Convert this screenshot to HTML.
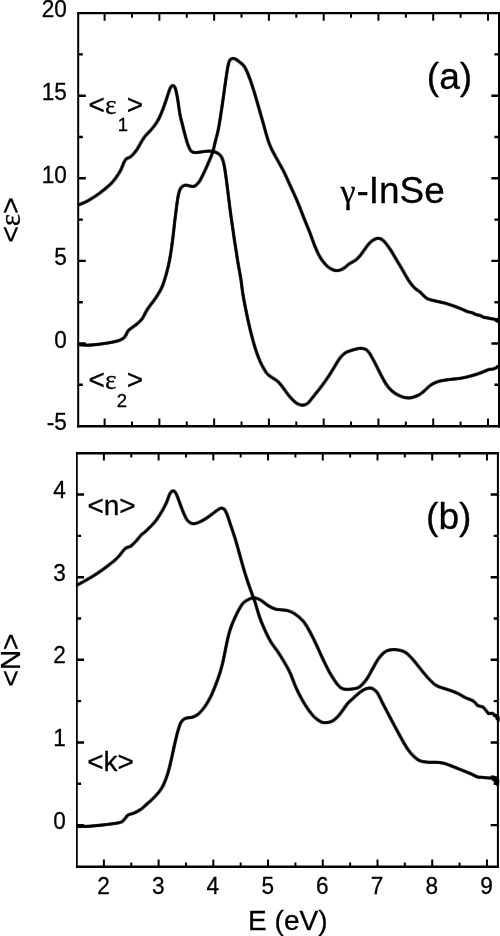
<!DOCTYPE html>
<html lang="en"><head><meta charset="utf-8"><title>Dielectric function and refractive index of γ-InSe</title>
<style>
html,body{margin:0;padding:0;background:#fff}
svg{display:block}
.cv{fill:none;stroke:#000;stroke-linejoin:round;stroke-linecap:butt}
.fv{fill:none;stroke:#000;stroke-width:2}
.fh{fill:none;stroke:#000;stroke-width:2.4}
.t{font-family:"Liberation Sans",sans-serif;fill:#000;stroke:#000;stroke-width:0.3}
.g{font-family:"Liberation Serif",serif}
</style></head><body>
<svg width="500" height="936" viewBox="0 0 500 936">
<rect width="500" height="936" fill="#fff"/>
<defs><g id="cv">
<path d="M78.2,205.1C79.8,204.4 84.4,202.7 88.0,200.7C91.6,198.7 96.0,195.9 100.0,192.9C104.0,189.9 108.7,186.1 112.0,182.7C115.3,179.2 117.6,175.5 119.6,172.2C121.6,168.9 122.8,165.0 123.8,162.8C124.8,160.6 125.2,160.0 125.9,159.2C126.6,158.4 127.2,158.4 128.0,158.0C128.8,157.6 129.6,157.6 130.5,156.9C131.4,156.2 132.3,155.2 133.4,154.0C134.5,152.8 135.6,151.5 136.8,149.8C138.0,148.1 139.2,145.6 140.4,143.6C141.6,141.6 142.8,139.3 144.0,137.6C145.2,135.9 146.5,134.8 147.8,133.4C149.1,132.0 150.3,130.7 151.6,129.2C152.9,127.7 154.2,126.2 155.4,124.4C156.6,122.6 157.8,120.8 159.0,118.4C160.2,116.0 161.5,112.8 162.6,110.0C163.7,107.2 164.7,104.2 165.6,101.6C166.5,99.0 167.2,96.7 168.0,94.4C168.8,92.1 169.6,89.3 170.4,87.8C171.2,86.3 172.0,85.4 172.8,85.4C173.6,85.4 174.4,86.3 175.1,87.8C175.8,89.3 176.2,91.7 176.8,94.4C177.4,97.1 177.9,100.6 178.4,104.0C178.9,107.4 179.4,111.6 180.0,114.8C180.6,118.0 181.3,120.3 182.0,123.0C182.7,125.7 183.3,128.4 184.0,131.0C184.7,133.6 185.3,136.2 186.0,138.5C186.7,140.8 187.2,143.0 188.0,145.0C188.8,147.0 189.7,149.1 190.5,150.3C191.3,151.5 192.1,151.8 193.0,152.2C193.9,152.6 194.8,152.6 196.0,152.6C197.2,152.6 198.5,152.3 200.0,152.1C201.5,151.9 203.3,151.6 205.0,151.4C206.7,151.2 208.3,151.0 210.0,151.1C211.7,151.2 213.5,151.5 215.0,152.0C216.5,152.5 217.8,153.2 219.0,154.2C220.2,155.2 221.1,156.0 222.0,158.0C222.9,160.0 223.6,162.3 224.3,166.0C225.0,169.7 225.7,175.0 226.4,180.0C227.1,185.0 227.7,190.7 228.4,196.0C229.1,201.3 229.7,207.0 230.4,212.0C231.1,217.0 231.7,221.3 232.4,226.0C233.1,230.7 233.8,235.7 234.4,240.0C235.1,244.3 235.7,248.0 236.3,252.0C236.9,256.0 237.4,259.3 238.2,264.0C239.0,268.7 240.2,274.7 241.0,280.0C241.8,285.3 242.0,289.0 243.2,296.0C244.4,303.0 246.7,314.2 248.4,322.0C250.1,329.8 251.9,336.7 253.6,342.8C255.3,348.9 257.1,354.0 258.8,358.4C260.5,362.8 262.5,366.3 264.0,369.0C265.5,371.7 266.3,373.0 268.0,374.6C269.7,376.2 272.2,377.5 274.0,378.8C275.8,380.1 277.2,380.8 278.8,382.4C280.4,384.0 282.0,386.3 283.6,388.4C285.2,390.5 286.8,393.0 288.4,395.0C290.0,397.0 291.6,398.9 293.2,400.4C294.8,401.9 296.4,403.2 298.0,404.0C299.6,404.8 301.2,405.3 302.8,405.2C304.4,405.1 306.0,404.6 307.6,403.4C309.2,402.2 310.8,399.7 312.4,397.8C314.0,395.9 315.4,394.0 317.0,392.0C318.6,390.0 320.2,388.1 322.0,385.6C323.8,383.1 326.0,380.2 328.0,377.2C330.0,374.2 332.0,370.8 334.0,367.6C336.0,364.4 338.2,360.4 340.0,358.0C341.8,355.6 343.0,354.4 344.8,353.2C346.6,352.0 348.6,351.4 350.8,350.6C353.0,349.8 356.1,349.0 358.0,348.6C359.9,348.2 360.8,348.2 362.2,348.4C363.6,348.6 365.3,349.1 366.4,349.8C367.5,350.5 368.1,351.5 369.0,352.6C369.9,353.7 370.3,354.5 371.5,356.6C372.7,358.7 374.4,361.9 376.0,365.0C377.6,368.1 379.3,371.8 381.0,375.0C382.7,378.2 384.2,381.3 386.0,384.0C387.8,386.7 389.7,389.0 392.0,391.0C394.3,393.0 397.2,394.8 400.0,396.0C402.8,397.2 406.0,398.1 409.0,398.0C412.0,397.9 415.5,396.5 418.0,395.4C420.5,394.3 422.0,392.8 424.0,391.2C426.0,389.6 428.0,387.1 430.0,385.6C432.0,384.1 434.0,383.1 436.0,382.3C438.0,381.5 439.6,381.1 442.0,380.6C444.4,380.1 447.4,379.8 450.4,379.4C453.4,379.0 456.8,378.9 460.0,378.4C463.2,377.9 466.4,377.1 469.6,376.3C472.8,375.5 476.3,374.4 479.2,373.4C482.1,372.4 485.4,370.9 487.2,370.2C489.0,369.5 489.2,369.3 490.0,369.2C490.8,369.1 491.3,369.5 492.0,369.4C492.7,369.3 493.3,368.8 494.0,368.6C494.7,368.4 495.4,368.4 496.0,368.0C496.6,367.6 497.0,366.5 497.4,366.4C497.8,366.3 498.1,367.7 498.4,367.6C498.7,367.5 498.9,366.1 499.0,365.8"/>
<path d="M78.2,344.6C79.7,344.7 83.9,345.2 87.0,345.2C90.1,345.2 93.7,344.9 97.0,344.5C100.3,344.1 103.7,343.7 107.0,343.1C110.3,342.5 114.3,341.9 117.0,341.1C119.7,340.4 121.5,339.6 123.0,338.6C124.5,337.6 125.2,336.3 126.0,335.0C126.8,333.7 127.0,332.2 128.0,331.0C129.0,329.8 130.5,328.8 132.0,327.6C133.5,326.4 135.3,325.4 137.0,324.0C138.7,322.6 140.3,321.3 142.0,319.0C143.7,316.7 145.3,312.7 147.0,310.0C148.7,307.3 150.3,305.3 152.0,303.0C153.7,300.7 155.3,298.7 157.0,296.0C158.7,293.3 160.4,290.7 162.0,287.0C163.6,283.3 165.0,278.5 166.3,274.0C167.6,269.5 168.7,264.7 169.6,260.0C170.5,255.3 171.1,251.0 171.8,246.0C172.5,241.0 173.3,234.3 173.8,230.0C174.3,225.7 174.2,225.3 174.9,220.0C175.6,214.7 176.9,203.3 177.8,198.0C178.8,192.7 179.4,190.5 180.6,188.4C181.8,186.3 183.4,185.6 185.0,185.2C186.6,184.8 188.5,185.8 190.0,186.0C191.5,186.2 192.5,187.1 194.0,186.4C195.5,185.7 197.3,184.4 199.0,182.0C200.7,179.6 202.5,175.7 204.3,172.0C206.1,168.3 208.2,163.3 209.6,160.0C211.0,156.7 211.7,155.3 212.7,152.0C213.7,148.7 214.7,144.0 215.7,140.0C216.7,136.0 217.5,134.0 218.6,128.0C219.7,122.0 221.3,111.3 222.4,104.0C223.5,96.7 224.3,90.3 225.2,84.0C226.1,77.7 227.2,70.0 228.0,66.0C228.8,62.0 229.2,61.3 230.0,60.0C230.8,58.7 232.0,58.5 233.0,58.4C234.0,58.3 234.8,58.7 236.0,59.4C237.2,60.1 238.7,61.3 240.0,62.4C241.3,63.5 242.7,64.1 244.0,66.0C245.3,67.9 246.7,70.8 248.0,74.0C249.3,77.2 250.7,81.0 252.0,85.0C253.3,89.0 254.7,93.5 256.0,98.0C257.3,102.5 258.7,107.3 260.0,112.0C261.3,116.7 262.7,121.3 264.0,126.0C265.3,130.7 266.7,136.0 268.0,140.0C269.3,144.0 270.3,146.5 272.0,150.0C273.7,153.5 276.0,157.3 278.0,161.0C280.0,164.7 281.9,167.8 284.0,172.0C286.1,176.2 288.1,181.0 290.4,186.0C292.7,191.0 295.4,196.7 297.6,202.0C299.9,207.3 301.9,213.0 303.9,218.0C305.9,223.0 307.7,227.2 309.6,232.0C311.5,236.8 313.4,242.7 315.2,247.0C317.0,251.3 318.6,254.8 320.6,258.0C322.6,261.2 324.9,264.0 327.0,266.0C329.1,268.0 331.2,269.0 333.0,269.8C334.8,270.6 336.3,270.8 338.0,270.6C339.7,270.4 341.2,269.8 343.0,268.8C344.8,267.8 347.0,265.5 348.5,264.4C350.0,263.3 350.9,263.0 352.1,262.2C353.4,261.4 354.7,260.9 356.0,259.8C357.3,258.7 358.6,257.5 360.0,255.8C361.4,254.1 362.9,251.9 364.4,249.8C365.9,247.7 367.6,245.1 369.2,243.4C370.8,241.7 372.4,240.4 374.0,239.6C375.6,238.8 377.2,238.1 378.8,238.3C380.4,238.5 381.7,239.0 383.6,240.8C385.5,242.6 387.9,246.0 390.0,249.0C392.1,252.0 394.0,255.7 396.0,259.0C398.0,262.3 400.0,265.6 402.0,269.0C404.0,272.4 406.0,276.4 408.0,279.5C410.0,282.6 412.0,285.3 414.0,287.4C416.0,289.5 418.3,290.6 420.0,292.0C421.7,293.4 422.7,294.8 424.0,296.0C425.3,297.2 426.0,298.1 428.0,299.0C430.0,299.9 433.3,300.5 436.0,301.1C438.7,301.8 441.3,302.2 444.0,302.9C446.7,303.6 449.3,304.5 452.0,305.4C454.7,306.3 457.3,307.3 460.0,308.4C462.7,309.5 466.0,311.1 468.0,311.8C470.0,312.5 470.7,312.1 472.0,312.6C473.3,313.1 474.7,314.1 476.0,314.6C477.3,315.1 478.7,314.9 480.0,315.4C481.3,315.9 482.7,317.0 484.0,317.4C485.3,317.8 486.7,317.8 488.0,318.0C489.3,318.2 490.8,318.7 492.0,318.9C493.2,319.1 494.2,319.0 495.0,319.4C495.8,319.8 496.1,321.1 496.5,321.0C496.9,320.9 497.2,318.8 497.5,319.0C497.8,319.2 498.1,321.8 498.3,322.0C498.6,322.2 498.9,320.3 499.0,320.0"/>
<path d="M76.9,585.2C78.4,584.4 82.8,582.0 86.0,580.2C89.2,578.4 92.7,576.4 96.0,574.2C99.3,572.0 102.7,569.7 106.0,567.2C109.3,564.7 113.5,561.5 116.0,559.2C118.5,556.9 119.7,555.2 121.0,553.6C122.3,552.0 123.2,550.7 124.0,549.8C124.8,548.9 125.2,548.5 126.0,548.0C126.8,547.5 127.7,547.3 128.5,547.0C129.3,546.7 129.8,547.0 131.0,546.0C132.2,545.0 134.2,543.2 136.0,541.2C137.8,539.2 140.5,535.7 142.0,534.2C143.5,532.7 143.7,533.2 145.0,532.0C146.3,530.8 148.1,529.2 150.0,527.2C151.9,525.2 154.3,522.9 156.4,520.0C158.5,517.1 161.0,513.0 162.7,510.0C164.4,507.0 165.5,504.7 166.7,502.0C167.9,499.3 168.9,495.5 170.0,493.6C171.1,491.7 172.1,490.8 173.1,490.8C174.1,490.8 175.0,491.7 176.0,493.4C177.0,495.1 177.9,498.2 179.1,501.2C180.3,504.2 181.7,508.6 183.0,511.6C184.3,514.6 185.5,517.5 186.7,519.4C187.9,521.3 189.1,522.1 190.3,522.8C191.5,523.5 192.5,523.9 194.0,523.8C195.5,523.7 197.5,522.9 199.5,522.0C201.5,521.1 203.8,519.9 206.0,518.5C208.2,517.1 210.6,515.2 212.5,513.8C214.4,512.4 216.3,510.8 217.7,509.9C219.1,508.9 220.0,508.2 221.1,508.1C222.2,508.0 223.2,508.2 224.2,509.1C225.1,510.1 225.9,511.5 226.8,513.8C227.8,516.1 228.6,519.0 229.9,522.9C231.2,526.8 233.0,531.8 234.7,537.2C236.4,542.6 238.2,549.3 239.9,555.4C241.6,561.5 243.4,568.0 245.1,573.6C246.8,579.2 248.6,584.3 250.3,589.2C252.0,594.1 253.8,598.5 255.3,603.0C256.8,607.5 257.7,611.7 259.2,616.0C260.7,620.3 262.4,624.7 264.4,629.0C266.3,633.3 268.7,638.3 270.9,642.0C273.1,645.7 275.2,647.9 277.4,651.1C279.6,654.4 281.7,657.8 283.9,661.5C286.1,665.2 288.5,669.3 290.4,673.5C292.3,677.7 293.6,682.2 295.5,686.5C297.4,690.8 299.8,695.6 302.0,699.5C304.2,703.4 306.3,706.9 308.5,709.9C310.7,712.9 312.8,715.7 315.0,717.7C317.2,719.7 319.6,721.3 321.5,722.1C323.4,722.9 325.0,722.7 326.7,722.6C328.4,722.5 330.2,722.2 331.9,721.3C333.6,720.4 335.4,719.1 337.1,717.4C338.8,715.7 340.6,713.2 342.3,710.9C344.0,708.6 345.8,705.6 347.5,703.6C349.2,701.6 351.0,700.3 352.7,698.7C354.4,697.1 356.2,695.4 357.9,694.0C359.6,692.6 361.4,691.1 363.1,690.1C364.8,689.1 366.9,688.5 368.3,688.2C369.7,687.9 370.5,687.9 371.5,688.2C372.5,688.5 373.6,689.2 374.5,689.9C375.4,690.6 376.1,691.0 377.0,692.3C377.9,693.6 379.0,695.8 380.0,697.7C381.0,699.6 381.5,701.0 383.0,703.9C384.5,706.8 387.0,711.6 389.0,715.4C391.0,719.2 393.0,723.0 395.0,726.7C397.0,730.4 399.0,734.2 401.0,737.8C403.0,741.4 405.0,745.1 407.0,748.1C409.0,751.1 410.8,753.5 413.0,755.6C415.2,757.7 417.3,759.7 420.0,760.8C422.7,761.9 426.2,762.0 429.0,762.3C431.8,762.5 434.5,762.1 437.0,762.3C439.5,762.5 441.7,762.7 444.0,763.3C446.3,763.9 448.7,764.9 451.0,765.8C453.3,766.7 455.7,767.7 458.0,768.6C460.3,769.5 462.7,770.5 465.0,771.4C467.3,772.3 469.9,773.4 472.0,774.3C474.1,775.2 475.9,776.5 477.6,777.0C479.3,777.5 480.6,777.2 482.0,777.3C483.4,777.4 484.4,777.7 486.0,777.8C487.6,777.9 490.4,778.2 491.5,778.0C492.6,777.8 492.2,776.4 492.5,776.6C492.8,776.9 492.9,779.4 493.2,779.5C493.4,779.6 493.7,776.8 494.0,777.0C494.3,777.2 494.6,780.9 494.8,781.0C495.1,781.1 495.3,777.2 495.5,777.5C495.7,777.8 496.0,782.8 496.2,783.0C496.4,783.2 496.6,778.2 496.8,778.5C497.0,778.8 497.2,784.2 497.4,784.5C497.6,784.8 497.9,780.8 498.0,780.0"/>
<path d="M76.9,826.6C79.1,826.5 85.5,826.5 89.8,826.2C94.1,825.9 98.3,825.5 102.6,825.0C106.9,824.5 112.2,823.9 115.4,823.4C118.6,822.9 120.2,822.6 121.8,821.8C123.4,821.0 123.9,819.7 125.0,818.6C126.1,817.5 126.6,816.0 128.2,815.0C129.8,814.0 132.5,813.8 134.6,812.8C136.7,811.8 139.1,810.6 141.0,809.3C142.9,808.0 143.9,806.7 145.8,805.0C147.7,803.3 150.1,801.4 152.2,799.3C154.3,797.2 156.7,794.8 158.6,792.4C160.5,790.0 161.8,788.4 163.4,785.0C165.0,781.6 166.9,776.4 168.2,772.1C169.5,767.8 170.3,763.8 171.4,759.2C172.5,754.6 173.5,749.0 174.6,744.4C175.7,739.8 176.7,735.1 177.8,731.4C178.9,727.7 179.7,724.6 181.0,722.4C182.3,720.2 183.9,719.1 185.8,718.2C187.7,717.4 190.1,718.0 192.2,717.3C194.3,716.6 196.5,715.6 198.6,713.8C200.7,712.0 202.9,709.5 205.0,706.4C207.1,703.3 209.3,699.7 211.4,695.2C213.5,690.7 215.9,684.5 217.8,679.2C219.7,673.9 221.1,669.4 222.6,663.2C224.1,657.0 225.7,647.9 227.0,642.0C228.3,636.1 229.2,632.3 230.7,628.0C232.1,623.7 233.8,620.0 235.7,616.0C237.6,612.0 240.2,606.8 242.4,604.0C244.6,601.2 247.0,600.3 248.9,599.3C250.8,598.3 252.2,597.7 254.1,597.8C256.0,597.9 258.0,598.7 260.4,600.0C262.8,601.3 265.6,604.1 268.2,605.6C270.8,607.1 273.0,608.5 276.0,609.3C279.0,610.1 283.4,609.6 286.4,610.3C289.4,611.0 291.4,611.6 294.2,613.4C297.0,615.2 300.7,618.2 303.3,621.2C305.9,624.2 307.6,627.7 309.8,631.6C312.0,635.5 314.1,640.1 316.3,644.6C318.5,649.1 320.6,654.4 322.8,658.9C325.0,663.4 327.1,668.0 329.3,671.9C331.5,675.8 334.0,679.7 335.8,682.3C337.6,684.9 338.9,686.3 340.4,687.5C341.9,688.7 343.1,689.0 344.9,689.3C346.7,689.6 349.3,689.3 351.4,689.1C353.5,688.9 355.8,688.6 357.4,688.0C359.0,687.4 359.6,687.0 361.2,685.5C362.8,684.0 364.9,681.7 366.8,679.0C368.7,676.3 370.5,672.5 372.4,669.2C374.3,665.9 376.1,662.1 378.0,659.4C379.9,656.7 381.8,654.5 383.5,653.0C385.2,651.5 386.1,651.0 388.0,650.4C389.9,649.8 392.7,649.5 395.0,649.6C397.3,649.7 400.2,650.3 402.0,650.8C403.8,651.3 404.7,651.9 406.0,652.8C407.3,653.7 408.7,655.1 410.0,656.4C411.3,657.7 412.7,659.2 414.0,660.8C415.3,662.4 416.7,664.1 418.0,665.8C419.3,667.5 420.2,668.6 422.0,670.8C423.8,673.0 426.7,676.6 429.0,679.0C431.3,681.4 433.7,683.8 436.0,685.3C438.3,686.8 440.7,687.3 443.0,688.1C445.3,688.9 447.5,689.4 450.0,690.3C452.5,691.2 455.5,692.3 458.0,693.5C460.5,694.7 462.7,696.4 465.0,697.5C467.3,698.6 470.3,699.5 472.0,700.3C473.7,701.1 474.1,701.6 475.0,702.5C475.9,703.4 476.7,704.9 477.6,705.5C478.5,706.1 479.6,706.0 480.5,706.3C481.4,706.6 482.3,706.6 483.2,707.3C484.1,708.0 485.1,709.4 486.0,710.5C486.9,711.6 488.0,713.3 488.8,713.8C489.6,714.2 490.3,713.2 491.0,713.2C491.7,713.2 492.3,713.1 493.0,713.6C493.7,714.1 494.4,716.0 495.0,716.2C495.6,716.4 495.9,714.5 496.3,715.0C496.7,715.5 496.9,718.7 497.2,719.0C497.5,719.3 497.7,716.7 497.9,717.0C498.1,717.3 498.3,720.3 498.4,721.0"/>
</g></defs>
<g class="cv" stroke-width="0.6"><use href="#cv" x="-1.05" y="-1.05"/><use href="#cv" x="-1.05" y="1.05"/><use href="#cv" x="1.05" y="-1.05"/><use href="#cv" x="1.05" y="1.05"/></g>
<use href="#cv" class="cv" stroke-width="2.40"/>
<path class="fv" d="M78.2,12.0V427.4M499.0,12.0V427.4M497.9,452.09999999999997V867.9000000000001"/>
<path class="fv" style="stroke-width:1.75" d="M76.9,452.09999999999997V867.9000000000001"/>
<path class="fh" d="M77.2,13.1H500.0M77.2,426.2H500.0M75.9,453.2H498.9M75.9,866.7H498.9"/>
<path class="fv" d="M104.60,13.1v7.6M104.60,426.2v-7.6M131.98,13.1v4.6M131.98,426.2v-4.6M159.37,13.1v7.6M159.37,426.2v-7.6M186.75,13.1v4.6M186.75,426.2v-4.6M214.14,13.1v7.6M214.14,426.2v-7.6M241.53,13.1v4.6M241.53,426.2v-4.6M268.91,13.1v7.6M268.91,426.2v-7.6M296.30,13.1v4.6M296.30,426.2v-4.6M323.68,13.1v7.6M323.68,426.2v-7.6M351.06,13.1v4.6M351.06,426.2v-4.6M378.45,13.1v7.6M378.45,426.2v-7.6M405.84,13.1v4.6M405.84,426.2v-4.6M433.22,13.1v7.6M433.22,426.2v-7.6M460.61,13.1v4.6M460.61,426.2v-4.6M487.99,13.1v7.6M487.99,426.2v-7.6M103.90,453.2v7.2M103.90,866.7v-7.2M131.26,453.2v4.2M131.26,866.7v-4.2M158.62,453.2v7.2M158.62,866.7v-7.2M185.98,453.2v4.2M185.98,866.7v-4.2M213.34,453.2v7.2M213.34,866.7v-7.2M240.70,453.2v4.2M240.70,866.7v-4.2M268.06,453.2v7.2M268.06,866.7v-7.2M295.42,453.2v4.2M295.42,866.7v-4.2M322.78,453.2v7.2M322.78,866.7v-7.2M350.14,453.2v4.2M350.14,866.7v-4.2M377.50,453.2v7.2M377.50,866.7v-7.2M404.86,453.2v4.2M404.86,866.7v-4.2M432.22,453.2v7.2M432.22,866.7v-7.2M459.58,453.2v4.2M459.58,866.7v-4.2M486.94,453.2v7.2M486.94,866.7v-7.2"/>
<path class="fh" d="M78.2,54.40h4.6M499.0,54.40h-4.6M78.2,95.70h7.6M499.0,95.70h-7.6M78.2,137.00h4.6M499.0,137.00h-4.6M78.2,178.30h7.6M499.0,178.30h-7.6M78.2,219.60h4.6M499.0,219.60h-4.6M78.2,260.90h7.6M499.0,260.90h-7.6M78.2,302.20h4.6M499.0,302.20h-4.6M78.2,343.50h7.6M499.0,343.50h-7.6M78.2,384.80h4.6M499.0,384.80h-4.6M76.9,494.54h7.2M497.9,494.54h-7.2M76.9,535.86h4.2M497.9,535.86h-4.2M76.9,577.18h7.2M497.9,577.18h-7.2M76.9,618.50h4.2M497.9,618.50h-4.2M76.9,659.82h7.2M497.9,659.82h-7.2M76.9,701.14h4.2M497.9,701.14h-4.2M76.9,742.46h7.2M497.9,742.46h-7.2M76.9,783.78h4.2M497.9,783.78h-4.2M76.9,825.10h7.2M497.9,825.10h-7.2"/>
<text class="t" transform="translate(66.9,17.3) scale(0.93,1)" text-anchor="end" font-size="24.3">20</text>
<text class="t" transform="translate(66.9,99.9) scale(0.93,1)" text-anchor="end" font-size="24.3">15</text>
<text class="t" transform="translate(66.9,182.5) scale(0.93,1)" text-anchor="end" font-size="24.3">10</text>
<text class="t" transform="translate(66.9,265.1) scale(0.93,1)" text-anchor="end" font-size="24.3">5</text>
<text class="t" transform="translate(66.9,347.7) scale(0.93,1)" text-anchor="end" font-size="24.3">0</text>
<text class="t" transform="translate(66.9,430.3) scale(0.93,1)" text-anchor="end" font-size="24.3">-5</text>
<text class="t" transform="translate(65.7,498.0) scale(0.93,1)" text-anchor="end" font-size="24.3">4</text>
<text class="t" transform="translate(65.7,580.7) scale(0.93,1)" text-anchor="end" font-size="24.3">3</text>
<text class="t" transform="translate(65.7,663.3) scale(0.93,1)" text-anchor="end" font-size="24.3">2</text>
<text class="t" transform="translate(65.7,746.0) scale(0.93,1)" text-anchor="end" font-size="24.3">1</text>
<text class="t" transform="translate(65.7,828.6) scale(0.93,1)" text-anchor="end" font-size="24.3">0</text>
<text class="t" transform="translate(103.5,894.3) scale(0.93,1)" text-anchor="middle" font-size="24.3">2</text>
<text class="t" transform="translate(158.2,894.3) scale(0.93,1)" text-anchor="middle" font-size="24.3">3</text>
<text class="t" transform="translate(212.9,894.3) scale(0.93,1)" text-anchor="middle" font-size="24.3">4</text>
<text class="t" transform="translate(267.7,894.3) scale(0.93,1)" text-anchor="middle" font-size="24.3">5</text>
<text class="t" transform="translate(322.4,894.3) scale(0.93,1)" text-anchor="middle" font-size="24.3">6</text>
<text class="t" transform="translate(377.1,894.3) scale(0.93,1)" text-anchor="middle" font-size="24.3">7</text>
<text class="t" transform="translate(431.8,894.3) scale(0.93,1)" text-anchor="middle" font-size="24.3">8</text>
<text class="t" transform="translate(486.5,894.3) scale(0.93,1)" text-anchor="middle" font-size="24.3">9</text>
<text class="t" x="287.8" y="929.5" text-anchor="middle" font-size="28">E (eV)</text>
<text class="t" x="426.8" y="88.6" font-size="37.2">(a)</text>
<text class="t" x="426" y="529" font-size="37.2">(b)</text>
<text class="t" x="340.6" y="202.6" font-size="36.9"><tspan class="g" font-size="34">γ</tspan><tspan dx="0.9">-InSe</tspan></text>
<text class="t" x="87.4" y="514.5" font-size="28">&lt;n&gt;</text>
<text class="t" x="87.2" y="771" font-size="28">&lt;k&gt;</text>
<text class="t" x="88.6" y="113.5" font-size="28">&lt;<tspan class="g" font-size="27.4">ε</tspan><tspan dx="1.3" dy="17.1" font-size="18.5">1</tspan><tspan dx="-1.4" dy="-17.1">&gt;</tspan></text>
<text class="t" x="88.6" y="389.4" font-size="28">&lt;<tspan class="g" font-size="27.4">ε</tspan><tspan dx="0.3" dy="17.1" font-size="18.5">2</tspan><tspan dx="-0.4" dy="-17.1">&gt;</tspan></text>
<text class="t" transform="translate(20.3,220) rotate(-90)" text-anchor="middle" font-size="28">&lt;<tspan class="g" font-size="29.5">ε</tspan>&gt;</text>
<text class="t" transform="translate(20,660) rotate(-90)" text-anchor="middle" font-size="28">&lt;N&gt;</text>
</svg>
</body></html>
